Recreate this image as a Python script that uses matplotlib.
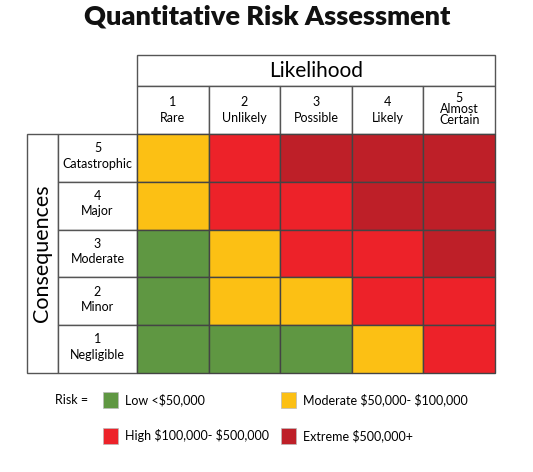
import matplotlib.pyplot as plt
from matplotlib.patches import Rectangle

plt.rcParams['font.family'] = ['Lato', 'DejaVu Sans']
plt.rcParams['text.parse_math'] = False

likelihood = ['1\nRare', '2\nUnlikely', '3\nPossible', '4\nLikely', '5\nAlmost\nCertain']
consequences = ['5\nCatastrophic', '4\nMajor', '3\nModerate', '2\nMinor', '1\nNegligible']

# risk level per cell, rows top (5) to bottom (1), columns 1..5
risk = [
    ['M', 'H', 'E', 'E', 'E'],
    ['M', 'H', 'H', 'E', 'E'],
    ['L', 'M', 'H', 'H', 'E'],
    ['L', 'M', 'M', 'H', 'H'],
    ['L', 'L', 'L', 'M', 'H'],
]

levels = ['L', 'M', 'H', 'E']
level_labels = ['Low <$50,000', 'Moderate $50,000- $100,000',
                'High $100,000- $500,000', 'Extreme $500,000+']
colors = {'L': '#5f9742', 'M': '#fcc014', 'H': '#ed2229', 'E': '#be1f28'}

fig = plt.figure(figsize=(5.33, 4.72), dpi=100)
ax = fig.add_axes([0, 0, 1, 1])
ax.set_xlim(0, 533)
ax.set_ylim(472, 0)
ax.axis('off')

x0, cw = 137, 71.6
y0, rh = 134, 47.8
line = '#444444'

ax.text(267, 17, 'Quantitative Risk Assessment', ha='center', va='center',
        fontsize=19.5, fontweight='heavy', color='#111111')

# likelihood header
ax.add_patch(Rectangle((x0, 55), cw * 5, 31, fc='white', ec='#555555', lw=1))
ax.text(x0 + cw * 2.5, 71, 'Likelihood', ha='center', va='center', fontsize=15)
for j, lab in enumerate(likelihood):
    ax.add_patch(Rectangle((x0 + j * cw, 86), cw, y0 - 86, fc='white', ec='#555555', lw=1))
    if j < 4:
        ax.text(x0 + (j + 0.5) * cw, 110, lab, ha='center', va='center',
                fontsize=9, linespacing=1.35)
    else:
        ax.text(x0 + (j + 0.5) * cw, 109, lab, ha='center', va='center',
                fontsize=9, linespacing=0.95)

# consequences side
ax.add_patch(Rectangle((27, y0), 31, rh * 5, fc='white', ec='#555555', lw=1))
ax.text(42, y0 + rh * 2.5, 'Consequences', ha='center', va='center',
        rotation=90, fontsize=15.5)
for i, lab in enumerate(consequences):
    ax.add_patch(Rectangle((58, y0 + i * rh), x0 - 58, rh, fc='white', ec='#555555', lw=1))
    ax.text((58 + x0) / 2, y0 + (i + 0.5) * rh - 2, lab, ha='center', va='center',
            fontsize=9, linespacing=1.35)

# risk cells
for i, row in enumerate(risk):
    for j, lv in enumerate(row):
        ax.add_patch(Rectangle((x0 + j * cw, y0 + i * rh), cw, rh,
                               fc=colors[lv], ec=line, lw=1))

# legend
ax.text(55, 400, 'Risk =', ha='left', va='center', fontsize=9)
lx = [103, 281]
ly = [400, 436]
for k, lv in enumerate(levels):
    px, py = lx[k % 2], ly[k // 2]
    ax.add_patch(Rectangle((px, py - 8), 15, 16, fc=colors[lv], ec='#bbbbbb', lw=0.5))
    ax.text(px + 22, py, level_labels[k], ha='left', va='center', fontsize=9)

fig.savefig('out.png', dpi=100)
